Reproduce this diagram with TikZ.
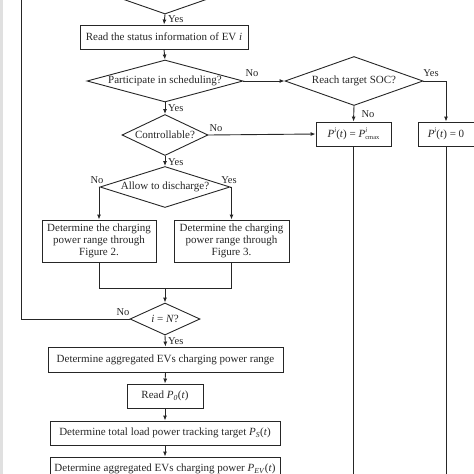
\documentclass[tikz,border=0pt]{standalone}
\usepackage{fontspec}
\setmainfont{Liberation Serif}
\usetikzlibrary{shapes.geometric,arrows.meta}
\newcommand{\subsup}[2]{\rlap{\raisebox{0.9ex}{\fontsize{7}{7}\selectfont #1}}\raisebox{-0.55ex}{\fontsize{6.5}{7}\selectfont #2}}
\begin{document}
\begin{tikzpicture}[x=1pt,y=-1pt,
  box/.style={draw=black!85, line width=0.9pt, inner sep=0pt, minimum height=24pt, align=center, font=\fontsize{11}{12}\selectfont, text=black!85},
  dia/.style={draw=black!85, diamond, line width=0.9pt, inner sep=0pt, font=\fontsize{11}{12}\selectfont, text=black!85},
  lab/.style={font=\fontsize{10.5}{11}\selectfont, inner sep=0pt, text=black!85},
  arr/.style={draw=black!85, line width=0.9pt, -{Latex[length=5pt,width=4pt]}},
  ln/.style={draw=black!85, line width=0.9pt}]
\useasboundingbox (0,0) rectangle (474,474);
\clip (0,0) rectangle (474,474);
\fill[black!12] (0,0) rectangle (3,474);

\node[dia, minimum width=120pt, minimum height=42pt] (d0) at (165,-7) {};
\node[box, minimum width=168pt] (b1) at (164,37) {Read the status information of EV \textit{i}};
\node[dia, minimum width=156pt, minimum height=42pt] (d1) at (165,81) {\makebox[0pt]{Participate in scheduling?}};
\node[dia, minimum width=86pt, minimum height=41pt] (d2) at (165,135) {\makebox[0pt]{Controllable?}};
\node[dia, minimum width=138pt, minimum height=49pt] (d3) at (354,81) {\makebox[0pt]{Reach target SOC?}};
\node[box, minimum width=75pt] (p1) at (353.5,134) {\textit{P}\raisebox{0.9ex}{\fontsize{7}{7}\selectfont\textit{i}}(\textit{t}) = \textit{P}\subsup{\textit{i}}{cmax}};
\node[box, minimum width=56pt] (p2) at (446,134) {\textit{P}\raisebox{0.9ex}{\fontsize{7}{7}\selectfont\textit{i}}(\textit{t}) = 0};
\node[dia, minimum width=130pt, minimum height=41pt] (d4) at (165,187) {\makebox[0pt]{Allow to discharge?}};
\node[box, minimum width=114pt, minimum height=42pt] (f2) at (99,241) {Determine the charging\\power range through\\Figure 2.};
\node[box, minimum width=115pt, minimum height=42pt] (f3) at (231.5,241) {Determine the charging\\power range through\\Figure 3.};
\coordinate (j) at (165,288);
\node[dia, minimum width=70pt, minimum height=32pt] (d5) at (165,319) {\makebox[0pt]{\textit{i} = \textit{N}?}};
\coordinate (lt) at (21,-5);
\node[box, minimum width=235pt, minimum height=25pt] (b2) at (165.5,359.5) {Determine aggregated EVs charging power range};
\node[box, minimum width=76pt] (b3) at (165,396) {Read \textit{P}\textsubscript{\textit{0}}(\textit{t})};
\node[box, minimum width=230pt] (b4) at (165,433) {Determine total load power tracking target \textit{P}\textsubscript{\textit{S}}(\textit{t})};
\node[box, minimum width=230pt] (b5) at (165,469) {Determine aggregated EVs charging power \textit{P}\textsubscript{\textit{EV}}(\textit{t})};
\coordinate (bot) at (0,480);

% labels
\node[lab, anchor=west] (y0) at (168,19) {Yes};
\node[lab, anchor=west] (y1) at (168,108) {Yes};
\node[lab, anchor=west] (y2) at (168,162) {Yes};
\node[lab] (n1) at (252,73) {No};
\node[lab] (n2) at (216,128) {No};
\node[lab] (ys) at (431,73) {Yes};
\node[lab] (ns) at (368,114) {No};
\node[lab] (n4) at (97,180) {No};
\node[lab] (y4) at (229,180) {Yes};
\node[lab] (n5) at (123,312) {No};
\node[lab, anchor=west] (y5) at (168,341) {Yes};

% connectors
\draw[arr] (d0.south) -- (b1.north);
\draw[arr] (b1.south) -- (d1.north);
\draw[arr] (d1.south) -- (d2.north);
\draw[arr] (d1.east) -- (d3.west);
\draw[arr] (d3.south) -- (p1.north);
\draw[arr] (d3.east) -| (p2.north);
\draw[arr] (d2.east) -- (p1.west);
\draw[arr] (d2.south) -- (d4.north);
\draw[arr] (d4.west) -| (f2.north);
\draw[arr] (d4.east) -| (f3.north);
\draw[ln] (f2.south) -- (f2.south |- j) -- (f3.south |- j) -- (f3.south);
\draw[arr] (j) -- (d5.north);
\draw[ln] (d5.west) -| (lt);
\draw[arr] (d5.south) -- (b2.north);
\draw[arr] (b2.south) -- (b3.north);
\draw[arr] (b3.south) -- (b4.north);
\draw[arr] (b4.south) -- (b5.north);
\draw[ln] (p1.south) -- (p1.south |- bot);
\draw[ln] (p2.south) -- (p2.south |- bot);
\end{tikzpicture}
\end{document}
